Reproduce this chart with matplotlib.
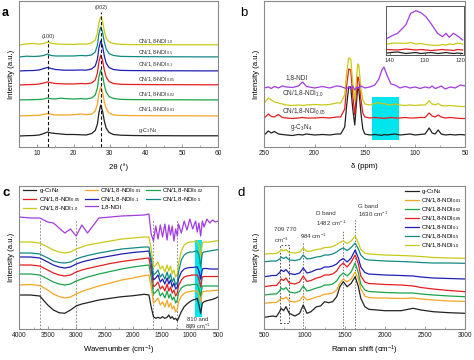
import matplotlib
matplotlib.use("Agg")
import matplotlib.pyplot as plt
from matplotlib.patches import Rectangle
from matplotlib.ticker import MultipleLocator

plt.rcParams['font.family'] = ['Liberation Sans', 'DejaVu Sans']
plt.rcParams['mathtext.fontset'] = 'custom'
plt.rcParams['mathtext.rm'] = 'Liberation Sans'
plt.rcParams['mathtext.it'] = 'Liberation Sans'
plt.rcParams['mathtext.bf'] = 'Liberation Sans:bold'

# ---------------- colours ----------------
C_BLACK = '#222222'
C_ORANGE = '#F5A623'
C_GREEN = '#1BA34A'
C_RED = '#E41E1E'
C_BLUE = '#1F1FB4'
C_TEAL = '#128A84'
C_YELLOW = '#C9C918'
C_PURPLE = '#A23BE0'
C_CYAN = '#00E5EE'

# ---------------- labels ----------------
lab_g = 'g-C$_3$N$_4$'
lab_001 = 'CN/1,8-NDI$_{0.01}$'
lab_002 = 'CN/1,8-NDI$_{0.02}$'
lab_005 = 'CN/1,8-NDI$_{0.05}$'
lab_01 = 'CN/1,8-NDI$_{0.1}$'
lab_05 = 'CN/1,8-NDI$_{0.5}$'
lab_10 = 'CN/1,8-NDI$_{1.0}$'
lab_ndi = '1,8-NDI'

# ---------------- panel a : XRD ----------------
xrd_x = [5, 7, 9, 10.5, 11.8, 12.8, 13.8, 15, 16.5, 18, 20, 22, 23.5, 25, 26, 26.6,
         27.0, 27.5, 28.0, 28.5, 29.0, 29.8, 31, 33, 36, 40, 45, 50, 55, 60]
xrd_g = [11, 11.3, 11.5, 12, 13.5, 15, 14, 13.5, 13, 12.5, 12.5, 12.2, 12, 13.5, 16.5, 23,
         34, 42, 36, 26, 19, 14.5, 12.5, 11.8, 11.5, 11.3, 11.3, 11.2, 11.2, 11.2]
xrd_001 = [31, 31.3, 31.5, 31.8, 32.5, 33.5, 32.8, 32, 32, 32, 32.3, 33, 32.3, 33, 36, 43,
           53, 60, 55, 45, 38.5, 34, 32, 31.6, 31.4, 31.3, 31.2, 31.2, 31.1, 31.1]
xrd_002 = [47, 47.2, 47.3, 47.5, 48, 49, 48.2, 48, 48.8, 48.3, 48, 48.3, 48, 49, 52, 59,
           70, 77, 72, 62, 55, 50.5, 48.5, 47.6, 47.4, 47.3, 47.2, 47.2, 47.1, 47.1]
xrd_005 = [62, 62.3, 62.5, 63, 64, 65, 64.2, 63.5, 63.2, 63, 63, 63.5, 63.2, 64, 67, 74,
           85, 92, 87, 77, 70, 65.5, 63.5, 62.7, 62.5, 62.4, 62.3, 62.3, 62.2, 62.2]
xrd_01 = [76, 76.3, 76.5, 77, 78.5, 79.5, 78.5, 77.5, 77, 76.8, 76.8, 77, 76.8, 78, 81, 88,
          99, 106, 101, 91, 84, 79.5, 77.5, 76.6, 76.4, 76.3, 76.2, 76.2, 76.1, 76.1]
xrd_05 = [90, 90.8, 90.5, 90.8, 91.5, 93, 91.5, 91, 91, 91, 91, 91.5, 91.2, 92, 95, 102,
          113, 120, 115, 105, 98, 93.5, 91.5, 90.6, 90.4, 90.3, 90.2, 90.2, 90.1, 90.1]
xrd_10 = [102, 103, 103.5, 102.8, 103.5, 105, 103.8, 103, 102.8, 102.6, 102.6, 103, 102.8, 104, 107, 114,
          124, 130, 126, 116, 109, 105, 103.5, 102.6, 102.4, 102.3, 102.3, 102.2, 102.2, 102.2]
xrd_label_y = [16, 37, 52.7, 67, 82, 94.7, 105.3]

# ---------------- panel b : NMR ----------------
nmr_x = [250, 246, 243, 240, 236, 232, 228, 222, 216, 212, 208, 200, 192, 185, 178,
         174, 170, 168, 166, 164, 162, 160, 158, 157, 156, 154, 152, 150,
         145, 140, 136, 133, 131, 128, 124, 120, 115, 110, 105, 100, 95, 90, 86,
         83, 80, 77, 74, 70, 65, 60, 55, 50]
nmr_g = [12, 16, 14, 15.5, 13, 12.5, 12, 11.5, 12.5, 12, 13, 12, 12.5, 12, 13,
         13, 20, 42, 60, 60, 38, 22, 48, 60, 58, 35, 18, 13,
         12, 12.5, 12, 11.5, 12.5, 12, 12.5, 13, 12, 12.5, 13, 12, 12.5, 13, 19,
         14, 13, 17, 13, 12, 12.5, 12, 12.5, 12]
nmr_005 = [29, 33, 30.5, 30, 32.5, 29.5, 29, 28.5, 29, 29.5, 29, 29, 29.5, 29, 30,
           30, 38, 62, 78, 77, 52, 32, 58, 70, 68, 48, 34, 30,
           29, 29.5, 29, 29, 28.5, 29, 29.5, 29, 29, 29.5, 29, 29, 29.5, 29.5, 34,
           31, 30, 32, 30, 29, 29.5, 29, 28.5, 28.5]
nmr_10 = [44, 49, 47, 45, 44, 43, 42, 41.5, 42, 41.5, 42, 42.5, 42, 42.5, 44,
          44, 52, 75, 89, 88, 64, 46, 72, 83, 82, 60, 47, 43,
          42, 43.5, 44.5, 43, 43.5, 42.5, 42, 43, 42, 41.5, 42, 41.5, 42, 42, 46,
          43, 42, 43.5, 41.5, 41, 41.5, 41, 40.5, 40.5]
nmr_ndi = [59, 60, 58.5, 60.5, 59, 61, 60, 59.5, 61, 65, 60.5, 59, 60.5, 59, 61,
           60.5, 59, 58.5, 60, 58, 61, 57, 60, 59, 58.5, 61, 60, 59,
           60, 62, 68, 77, 80, 72, 63, 62, 59, 60.5, 59, 60, 58.5, 60, 59,
           61, 58.5, 59.5, 61, 58, 60, 59, 62, 61]
inset_x = [140.6, 139.2, 137.7, 135.4, 134, 132.5, 131.1, 129.7, 128.3, 126.4, 125, 124, 123.1, 121.9, 120.7, 119.3]
inset_ndi = [16.7, 19.5, 21.7, 30, 41.7, 44.3, 42.3, 38.3, 31.7, 21.7, 18.3, 21.7, 17.7, 21.7, 19, 15]
inset_10 = [11, 11.8, 12, 11.5, 12.5, 11, 11.5, 10.5, 10, 9.5, 10.5, 10, 11, 10.5, 12, 11]
inset_005 = [5.5, 5.2, 5, 6, 5.5, 5, 5.5, 5, 4.5, 5, 5.5, 5, 5, 4.5, 5.5, 5]
inset_g = [2, 2.6, 3, 1.5, 2, 2.5, 1.5, 2, 2.5, 1.5, 2, 2.5, 2, 1.5, 2, 1.5]

# ---------------- panel c : FTIR ----------------
ir_x = [4000, 3800, 3640, 3500, 3400, 3300, 3200, 3100, 3000, 2900, 2800, 2600, 2400, 2200, 2000, 1800,
        1720, 1680, 1640, 1600, 1560, 1520, 1480, 1440, 1400, 1370, 1340, 1310, 1280, 1250, 1220, 1200,
        1150, 1100, 1050, 1000, 950, 900, 870, 840, 810, 780, 750, 700, 650, 600, 550, 500]
ir_g = [34, 34, 33, 24, 19, 16.3, 15.7, 19, 23, 25, 26.3, 29, 30.7, 32.3, 33.3, 34.7,
        34, 22, 12.3, 10.7, 11.7, 10.7, 12.3, 10.7, 11.7, 14, 10.7, 12.3, 9.7, 10.7, 8.3, 10.7,
        17.3, 22.3, 25, 27.3, 29, 29.7, 30.7, 24, 15.7, 25.7, 27.3, 28.3, 29, 29.7, 30.7, 32.3]
ir_001 = [44, 44.5, 43.5, 39, 35, 32.5, 31, 32, 35, 37.5, 39.5, 43, 46, 49, 51, 53.5,
          54, 42, 26, 28, 31, 24, 27, 22, 29, 22, 26, 20, 23, 17, 20, 27,
          33, 35.5, 37, 37.5, 38, 38, 38, 34, 27, 37, 37.5, 38, 38, 38.5, 38.5, 39]
ir_002 = [55, 55, 54, 50, 47, 45, 44, 45, 48, 50, 52, 55, 57.5, 60, 62, 63.5,
          64, 52, 35, 37, 40, 33, 36, 31, 38, 31, 35, 29, 32, 26, 29, 36,
          41, 43, 44, 44, 44.5, 44.5, 44.5, 40, 33, 43, 43, 43, 43, 43, 43, 43]
ir_005 = [64, 64, 63, 59, 56, 54, 53, 54, 57, 59, 60.5, 63, 65.5, 67.5, 69, 70.5,
          71, 59, 42, 44, 47, 40, 43, 38, 45, 38, 42, 36, 39, 33, 36, 43,
          49, 52, 53, 53.5, 54, 54, 54, 50, 42, 52, 52.5, 52.5, 52.5, 52.5, 52.5, 52.5]
ir_01 = [72, 72, 71, 67, 64, 62, 61, 62, 65, 67, 68.5, 71, 73, 75, 76.5, 77.5,
         78, 66, 49, 51, 54, 47, 50, 45, 51, 45, 49, 42, 46, 40, 42, 50,
         57, 60, 61, 61.5, 61.5, 62, 62, 58, 50, 60, 60.5, 60.5, 60, 60, 60, 60]
ir_05 = [76, 76, 75, 71, 68, 66.5, 66, 67, 70, 72, 73.5, 76, 78, 80, 81, 82,
         82, 70, 54, 56, 59, 52, 55, 50, 57, 50, 55, 47, 51, 44, 47, 57,
         69, 74, 76, 77, 77, 78, 78, 74, 62, 76, 77, 77.5, 78, 78.5, 79, 79.5]
ir_10 = [87, 87, 86, 82, 79, 77, 76, 77, 80, 82, 84, 86, 88, 90, 91, 92,
         92, 80, 62, 64, 67, 60, 63, 57, 64, 58, 63, 55, 59, 52, 55, 65,
         78, 84, 86, 87, 87, 88, 88, 84, 72, 86, 87, 87, 87, 87.5, 88, 88.5]
ir_ndi = [112, 111, 111, 107, 106, 101, 96, 100, 93, 104, 96, 111, 112, 113, 113.5, 114,
          115, 95, 88, 103, 90, 104, 92, 105, 89, 104, 94, 103, 88, 100, 93, 105,
          96, 108, 99, 110, 100, 108, 97, 106, 93, 108, 102, 110, 106, 109, 107, 108]
ir_marks = [3640, 3000, 1640, 1220]

# ---------------- panel d : Raman ----------------
ra_x = [500, 600, 650, 690, 709, 740, 770, 810, 880, 940, 984, 1030, 1080, 1150, 1200, 1250, 1300, 1350,
        1400, 1440, 1482, 1530, 1580, 1630, 1670, 1700, 1750, 1800, 1900, 2000, 2200, 2350, 2450, 2600,
        2800, 3000]
ra_g = [11.7, 13, 12.3, 17.3, 20.7, 18.3, 22.3, 15.7, 13, 15.7, 24, 15.7, 17.3, 22.3, 23, 27.3, 26.3, 27.3,
        32.3, 42.3, 47.3, 42.3, 45.7, 52.3, 42.3, 30.7, 22.3, 19.7, 19, 18.3, 18.3, 20.7, 19, 17.3, 16.3, 15.7]
ra_001 = [25.7, 26.5, 26.5, 29, 31, 30, 32, 28, 27, 28.5, 33, 29, 30, 32, 33, 35, 35, 36,
          39, 46, 50, 47, 50, 57, 50, 40, 33, 31.5, 31, 31, 30.5, 31, 30, 29, 28, 27.5]
ra_002 = [34, 35, 35, 38, 41, 39.5, 41.5, 37, 36, 37.5, 43, 38, 39, 41, 42, 44, 44, 45,
          48, 53, 56, 53, 57, 66, 56, 45, 39, 37.5, 37, 36.5, 36, 36, 35, 34, 33, 32.3]
ra_005 = [42.3, 43.5, 43.5, 47, 50, 48.5, 51, 46, 45, 47, 53, 47.5, 48.5, 51, 52, 54, 54, 55,
          58, 63, 66, 62, 67, 74, 65, 53, 47, 45.5, 45, 44.5, 44, 43, 41.5, 40, 38.5, 37.3]
ra_01 = [52.3, 53.5, 53.5, 56.5, 59, 57.5, 59.5, 55.5, 54.5, 56, 61, 56, 57, 59.5, 60, 62, 62, 63,
         65, 68.5, 70.5, 67, 71, 79, 71, 62, 56.5, 55, 54.5, 54, 53.5, 53, 52, 51, 50.5, 50]
ra_05 = [67.3, 68, 68, 70, 72, 70.5, 72, 69, 68.5, 69.5, 74, 70, 70.5, 72, 72.5, 74, 74, 75,
         77, 79.5, 81, 78.5, 81.5, 86, 80, 74, 70, 69, 68.5, 68, 67.5, 67, 66.5, 66, 66, 65.7]
ra_10 = [75, 75.5, 75.5, 77.5, 79.5, 78, 79.5, 76.5, 76, 77, 81, 77.5, 78, 79.5, 80, 81.5, 81.5, 82.5,
         84.5, 86.5, 88, 85.5, 88, 93, 86, 79.5, 76, 75, 74.5, 74, 73.5, 73, 72.5, 71.5, 71, 70.7]
ra_marks = [984, 1482, 1630]
ra_mark_top = [87, 99, 110]

# ---------------- figure ----------------
fig = plt.figure(figsize=(4.74, 3.6), dpi=100)
SP = '#8a8a8a'
LW = 0.9
TICK_FS = 4.8
LAB_FS = 5.6
TXT = '#333333'


def style(ax):
    for s in ax.spines.values():
        s.set_color(SP)
        s.set_linewidth(0.8)
    ax.tick_params(axis='x', which='both', direction='in', colors=SP, labelcolor='#222222',
                   labelsize=TICK_FS, pad=2.5, top=False)
    ax.tick_params(axis='x', which='major', length=2.5, width=0.6)
    ax.tick_params(axis='x', which='minor', length=1.5, width=0.5)
    ax.tick_params(axis='y', which='both', left=False, labelleft=False)


# panel a
axa = fig.add_axes([0.0407, 0.5917, 0.4198, 0.4056])
style(axa)
series_a = [(xrd_g, C_BLACK, lab_g), (xrd_001, C_ORANGE, lab_001), (xrd_002, C_GREEN, lab_002),
            (xrd_005, C_RED, lab_005), (xrd_01, C_BLUE, lab_01), (xrd_05, C_TEAL, lab_05),
            (xrd_10, C_YELLOW, lab_10)]
for (ys, c, lab), ly in zip(series_a, xrd_label_y):
    axa.plot(xrd_x, ys, color=c, lw=LW)
    axa.text(37.8, ly, lab, fontsize=4.0, color=TXT, va='center', ha='left')
axa.plot([12.8, 12.8], [0, 107], ls=(0, (3, 2)), color='#111111', lw=0.8)
axa.plot([27.5, 27.5], [0, 135], ls=(0, (3, 2)), color='#111111', lw=0.8)
axa.text(13, 110, '(100)', fontsize=4.0, ha='center', va='center', color=TXT)
axa.text(27.5, 139.7, '(002)', fontsize=4.0, ha='center', va='center', color=TXT)
axa.set_xlim(5, 60)
axa.set_ylim(0, 146)
axa.xaxis.set_major_locator(MultipleLocator(10))
axa.xaxis.set_minor_locator(MultipleLocator(5))
axa.set_xlabel('2θ (°)', fontsize=LAB_FS, labelpad=4)
axa.set_ylabel('Intensity (a.u.)', fontsize=LAB_FS, labelpad=3)

# panel b
axb = fig.add_axes([0.5576, 0.5917, 0.4241, 0.4056])
style(axb)
axb.add_patch(Rectangle((143, 7), -27, 43, facecolor=C_CYAN, edgecolor='none', zorder=1))
for ys, c in [(nmr_g, C_BLACK), (nmr_005, C_RED), (nmr_10, C_YELLOW), (nmr_ndi, C_PURPLE)]:
    axb.plot(nmr_x, ys, color=c, lw=LW, zorder=2)
axb.text(229, 69.7, lab_ndi, fontsize=4.7, color=TXT, va='center')
axb.text(232.4, 53, lab_10, fontsize=4.7, color=TXT, va='center')
axb.text(232.4, 35.3, lab_005, fontsize=4.7, color=TXT, va='center')
axb.text(224, 19.7, lab_g, fontsize=4.7, color=TXT, va='center')
axb.set_xlim(250, 50)
axb.set_ylim(0, 146)
axb.xaxis.set_major_locator(MultipleLocator(50))
axb.xaxis.set_minor_locator(MultipleLocator(25))
axb.set_xlabel('δ (ppm)', fontsize=LAB_FS, labelpad=4)
axb.set_ylabel('Intensity (a.u.)', fontsize=LAB_FS, labelpad=3)

# inset
axi = fig.add_axes([0.8143, 0.8472, 0.1639, 0.1361])
for s in axi.spines.values():
    s.set_color('#555555')
    s.set_linewidth(0.7)
for ys, c in [(inset_g, C_BLACK), (inset_005, C_RED), (inset_10, C_YELLOW), (inset_ndi, C_PURPLE)]:
    axi.plot(inset_x, ys, color=c, lw=LW)
axi.set_xlim(141, 119)
axi.set_ylim(0, 49)
axi.set_xticks([140, 130, 120])
axi.tick_params(axis='x', direction='in', length=1.5, width=0.5, colors='#555555',
                labelcolor=TXT, labelsize=4.2, pad=2)
axi.tick_params(axis='y', left=False, labelleft=False)

# panel c
axc = fig.add_axes([0.0407, 0.0861, 0.4198, 0.3972])
style(axc)
axc.add_patch(Rectangle((910, 12), -120, 77, facecolor=C_CYAN, edgecolor='none', zorder=1))
for xm in ir_marks:
    axc.plot([xm, xm], [0, 110], ls=(0, (2, 2)), color='#777777', lw=0.6, zorder=1.5)
series_c = [(ir_g, C_BLACK, lab_g), (ir_005, C_RED, lab_005), (ir_10, C_YELLOW, lab_10),
            (ir_001, C_ORANGE, lab_001), (ir_01, C_BLUE, lab_01), (ir_ndi, C_PURPLE, lab_ndi),
            (ir_002, C_GREEN, lab_002), (ir_05, C_TEAL, lab_05)]
handles = []
for ys, c, lab in series_c:
    h, = axc.plot(ir_x, ys, color=c, lw=LW, zorder=2, label=lab)
    handles.append(h)
axc.legend(handles=handles, ncol=3, loc='upper left', bbox_to_anchor=(0.0, 1.025), frameon=False,
           fontsize=4.4, handlelength=2.2, handletextpad=0.35, columnspacing=0.7,
           labelspacing=0.0, borderaxespad=0.2)
axc.text(857, 10, '810 and', fontsize=4.2, ha='center', va='center', color=TXT)
axc.text(857, 2.5, '889 cm$^{-1}$', fontsize=4.2, ha='center', va='center', color=TXT)
axc.set_xlim(4000, 500)
axc.set_ylim(0, 143)
axc.xaxis.set_major_locator(MultipleLocator(500))
axc.xaxis.set_minor_locator(MultipleLocator(250))
axc.set_xlabel('Wavenumber (cm$^{-1}$)', fontsize=LAB_FS, labelpad=3)
axc.set_ylabel('Intensity (a.u.)', fontsize=LAB_FS, labelpad=3)

# panel d
axd = fig.add_axes([0.5576, 0.0861, 0.4241, 0.3972])
style(axd)
for xm, top in zip(ra_marks, ra_mark_top):
    axd.plot([xm, xm], [0, top], ls=(0, (1.5, 1.5)), color='#777777', lw=0.7, zorder=1.5)
axd.plot([690, 810, 810, 690, 690], [6, 6, 84, 84, 6], ls=(0, (2, 2)), color='#333333', lw=0.6)
series_d = [(ra_g, C_BLACK, lab_g), (ra_001, C_ORANGE, lab_001), (ra_002, C_GREEN, lab_002),
            (ra_005, C_RED, lab_005), (ra_01, C_BLUE, lab_01), (ra_05, C_TEAL, lab_05),
            (ra_10, C_YELLOW, lab_10)]
for ys, c, lab in series_d:
    axd.plot(ra_x, ys, color=c, lw=LW, zorder=2, label=lab)
axd.legend(loc='upper right', bbox_to_anchor=(1.0, 1.015), frameon=False, fontsize=4.3,
           handlelength=2.4, handletextpad=0.25, labelspacing=0.02, borderaxespad=0.2)
ann_fs = 4.4
axd.text(617, 100, '709 770', fontsize=ann_fs, va='center', color=TXT)
axd.text(617, 89, 'cm$^{-1}$', fontsize=ann_fs, va='center', color=TXT)
axd.text(940, 92.3, '984 cm$^{-1}$', fontsize=ann_fs, va='center', color=TXT)
axd.text(1143, 116, 'D band', fontsize=ann_fs, va='center', color=TXT)
axd.text(1143, 106, '1482 cm$^{-1}$', fontsize=ann_fs, va='center', color=TXT)
axd.text(1666, 123, 'G band', fontsize=ann_fs, va='center', color=TXT)
axd.text(1666, 115, '1630 cm$^{-1}$', fontsize=ann_fs, va='center', color=TXT)
axd.set_xlim(500, 3000)
axd.set_ylim(0, 143)
axd.xaxis.set_major_locator(MultipleLocator(500))
axd.xaxis.set_minor_locator(MultipleLocator(250))
axd.set_xlabel('Raman shift (cm$^{-1}$)', fontsize=LAB_FS, labelpad=3)
axd.set_ylabel('Intensity (a.u.)', fontsize=LAB_FS, labelpad=3)

# panel letters
fig.text(0.004, 0.965, 'a', fontsize=9, fontweight='bold', va='center')
fig.text(0.506, 0.965, 'b', fontsize=9.5, va='center')
fig.text(0.006, 0.463, 'c', fontsize=9.5, fontweight='bold', va='center')
fig.text(0.502, 0.463, 'd', fontsize=9.5, va='center')

fig.savefig('out.png', dpi=100)
